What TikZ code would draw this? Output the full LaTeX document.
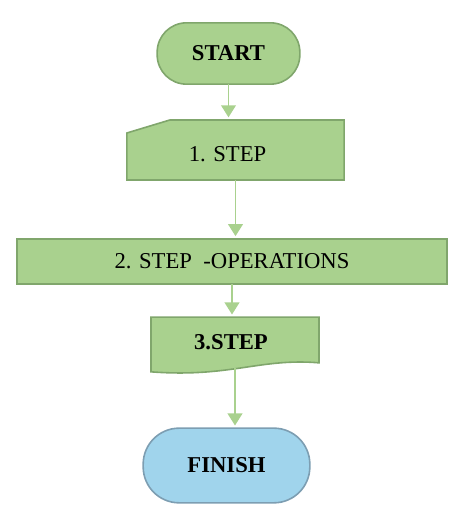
\documentclass[tikz,border=0pt]{standalone}
\usepackage{fontspec}
\setmainfont{Liberation Serif}
\usepackage{xcolor}
\usepackage{tikz}
\usetikzlibrary{arrows.meta, positioning, calc, backgrounds}

\definecolor{stepgreen}{RGB}{169,209,142}
\definecolor{stepedge}{RGB}{128,166,108}
\definecolor{arrowgreen}{RGB}{169,209,142}
\definecolor{finishblue}{RGB}{160,212,236}
\definecolor{finishedge}{RGB}{125,158,178}

\tikzset{
  flowtext/.style={font=\fontsize{17}{20}\selectfont, inner sep=0pt, outer sep=0pt},
  termbox/.style={flowtext, draw=stepedge, fill=stepgreen, line width=1.2pt},
  stepbox/.style={flowtext, draw=stepedge, fill=stepgreen, line width=1.2pt},
  flowarrow/.style={-{Triangle[length=9pt,width=11pt]}, draw=arrowgreen, line width=1.2pt, shorten >=2pt}
}

\begin{document}
\begin{tikzpicture}[x=0.75pt, y=0.75pt]
\useasboundingbox (0,0) rectangle (468,521);

% Terminals
\node[termbox, rounded corners=22pt, minimum width=107pt, minimum height=46pt] (start) at (228.5,467.5) {\textbf{START}};
\node[termbox, draw=finishedge, fill=finishblue, rounded corners=27pt, minimum width=125pt, minimum height=56pt] (finish) at (226.5,55.5) {\textbf{FINISH}};

% Steps
\node[flowtext, text height=18pt, text depth=0pt, minimum width=163pt, minimum height=45pt] (s1) at (235.5,371) {1. STEP\hspace*{12pt}};
\node[stepbox, minimum width=322.5pt, minimum height=34pt] (s2) at (232,259.5) {2. STEP\ \ -OPERATIONS};
\node[flowtext, minimum width=126pt, minimum height=38pt] (s3) at (235,178.5) {\textbf{3.STEP}\hspace*{6pt}};

% Outlines of step 1 and step 3
\begin{scope}[on background layer]
\draw[stepbox] (s1.south west) -- ($(s1.north west)+(0,-13)$) -- ($(s1.north west)+(43,0)$)
  -- (s1.north east) -- (s1.south east) -- cycle;
\draw[stepbox] (s3.north west) -- (s3.north east) -- ($(s3.south east)+(0,5)$)
  .. controls ($(s3.south)+(25,10)$) and ($(s3.south)+(-5,-10)$) .. ($(s3.south west)+(0,-4)$) -- cycle;
\end{scope}

% Arrows
\foreach \a/\b in {start/s1, s1/s2, s2/s3, s3/finish} {
    \draw[flowarrow] (\a.south) -- (\a.south |- \b.north);
}

\end{tikzpicture}
\end{document}
